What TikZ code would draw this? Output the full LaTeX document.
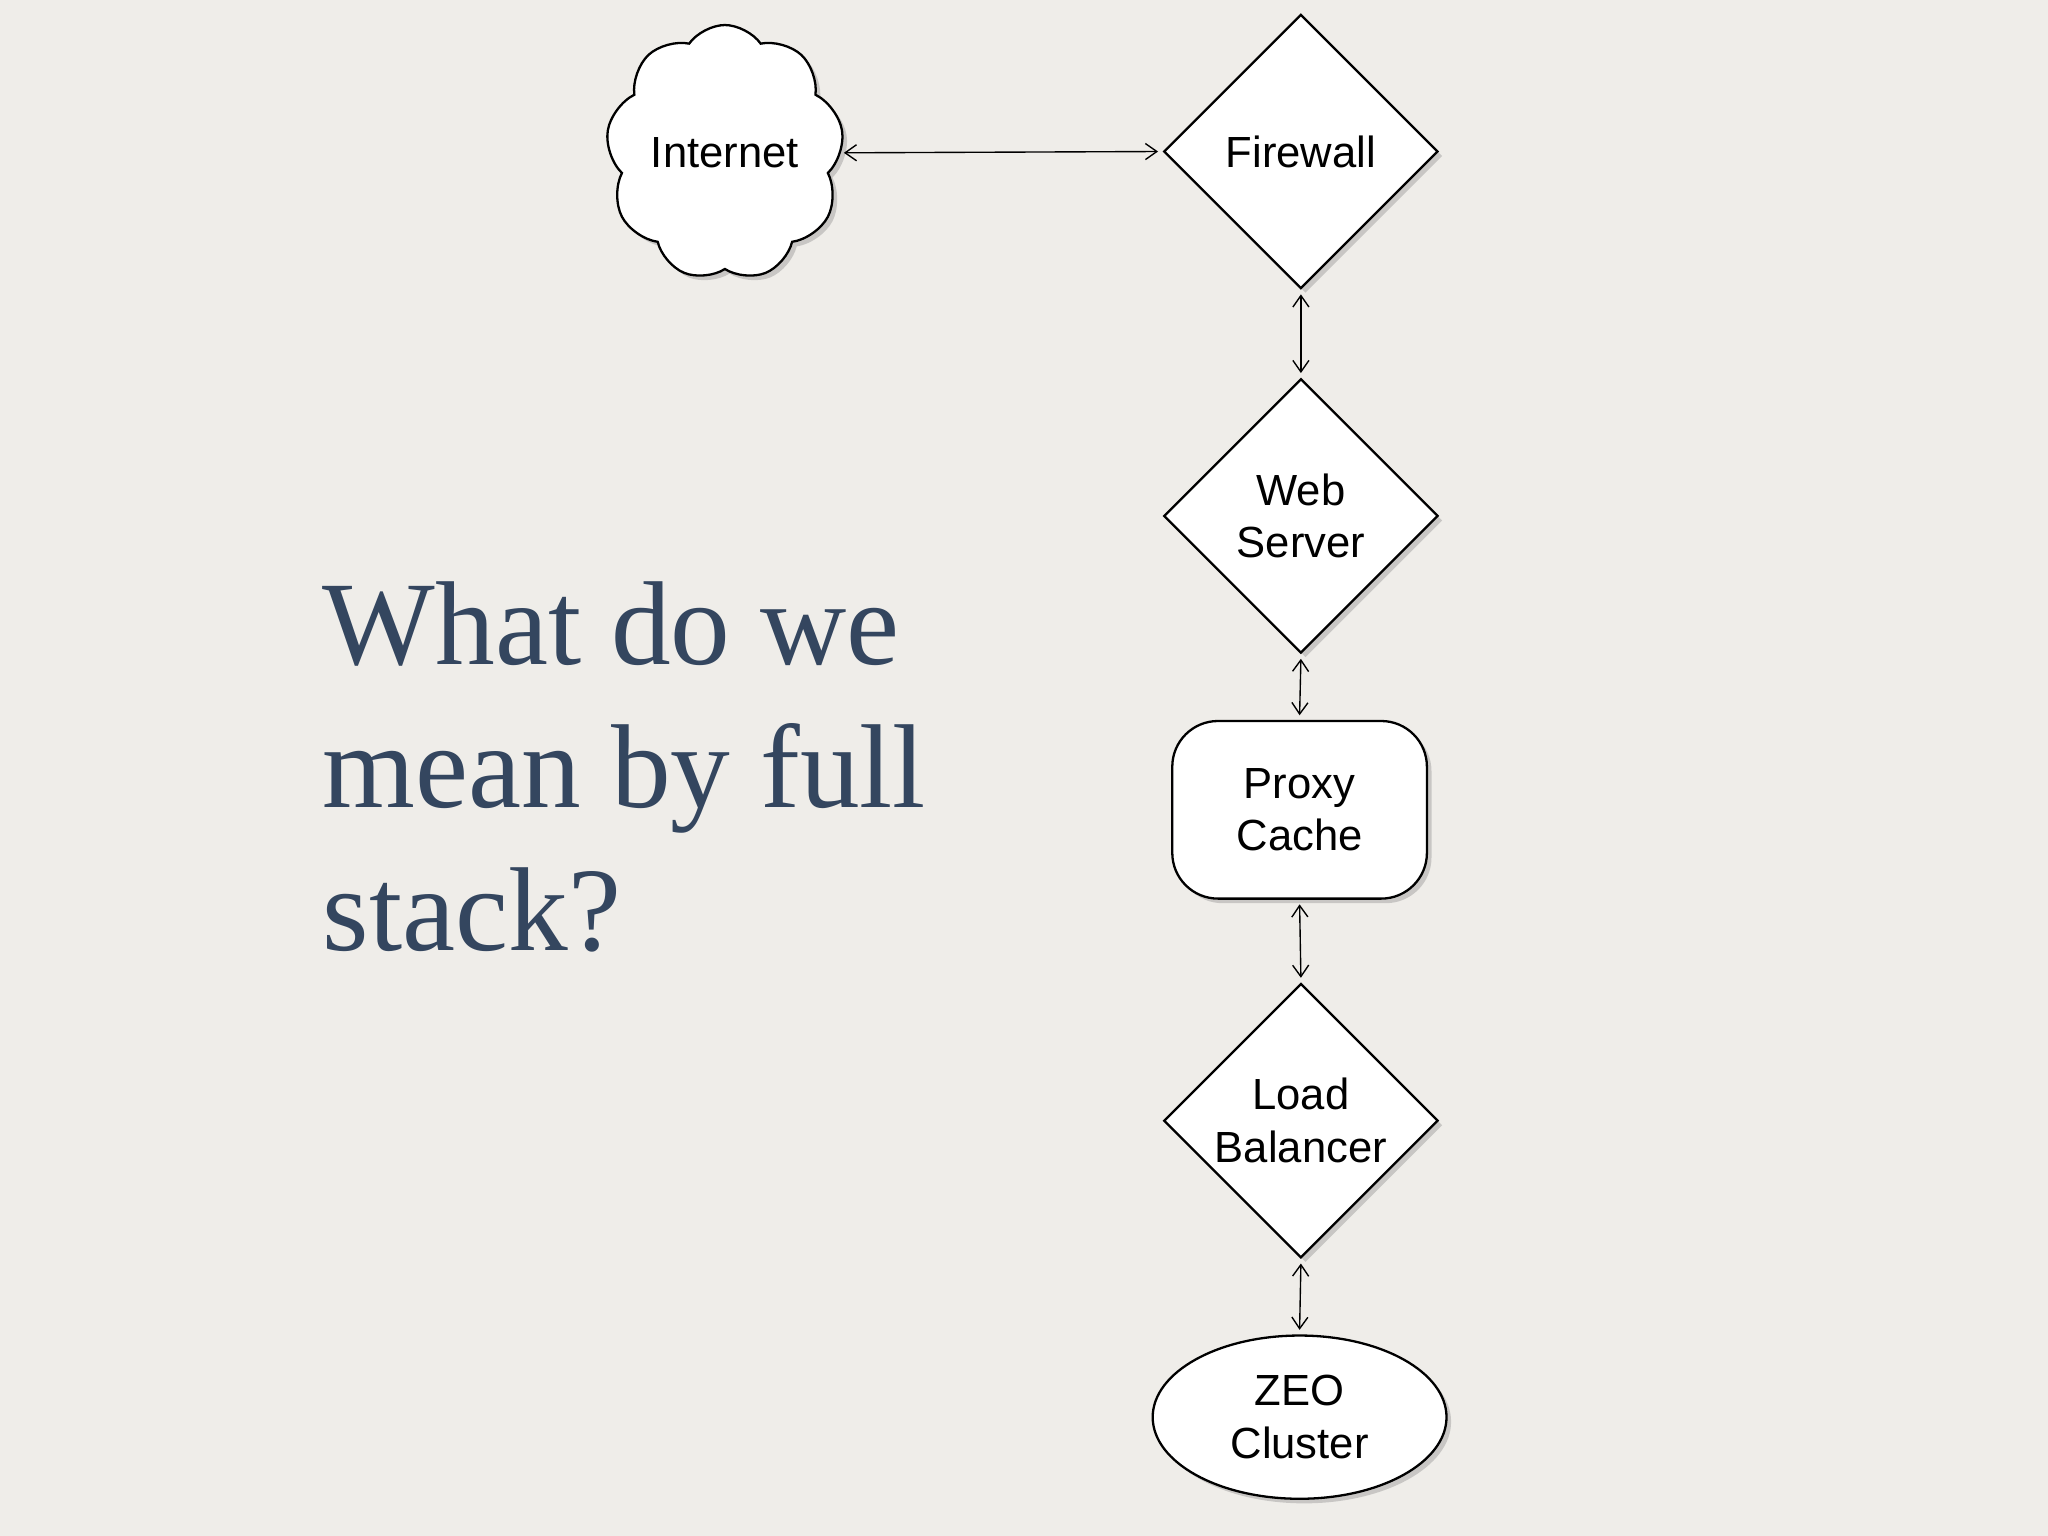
\documentclass[tikz,border=0pt]{standalone}
\usepackage{fontspec}
\setmainfont{Liberation Sans}
\newfontfamily\titlefont{Liberation Serif}
\usetikzlibrary{shapes.geometric,shapes.symbols,shapes.misc,shadows,arrows.meta}
\definecolor{bg}{HTML}{EFEDE9}
\definecolor{titleblue}{HTML}{34465F}
\begin{document}
\begin{tikzpicture}[x=0.02cm,y=-0.02cm,
  box/.style={draw=black,line width=1pt,fill=white,align=center,font=\fontsize{19}{23}\selectfont,
    drop shadow={shadow xshift=2pt,shadow yshift=-2pt,opacity=0.35}},
  dia/.style={box,diamond,minimum width=4.2cm,minimum height=4.2cm,inner sep=0pt},
  link/.style={{Straight Barb[length=5pt,width=7pt]}-{Straight Barb[length=5pt,width=7pt]},line width=0.6pt}]
\fill[bg] (0,0) rectangle (1568,1176);
\useasboundingbox (0,0) rectangle (1568,1176);
\node[box,cloud,cloud puffs=9,cloud puff arc=110,aspect=0.9,minimum width=3.5cm,minimum height=3.8cm,inner sep=0pt] (inet) at (555,117) {Internet};
\node[dia] (fw) at (996,116) {Firewall};
\node[dia] (ws) at (996,395) {Web\\Server};
\node[box,rectangle,rounded corners=0.7cm,minimum width=3.9cm,minimum height=2.72cm] (pc) at (995,620) {Proxy\\Cache};
\node[dia] (lb) at (996,858) {Load\\Balancer};
\node[box,ellipse,minimum width=4.5cm,minimum height=2.5cm] (zeo) at (995,1085) {ZEO\\Cluster};
\draw[link] ([xshift=1pt]inet.east) -- ([xshift=-2pt]fw.west);
\draw[link] ([yshift=-2pt]fw.south) -- ([yshift=2pt]ws.north);
\draw[link] ([yshift=-2pt]ws.south) -- ([yshift=2pt]pc.north);
\draw[link] ([yshift=-2pt]pc.south) -- ([yshift=2pt]lb.north);
\draw[link] ([yshift=-2pt]lb.south) -- ([yshift=2pt]zeo.north);
\node[anchor=base west,text=titleblue,align=left,font=\titlefont\fontsize{52}{62.5}\selectfont] (title) at (241,728) {What do we\\mean by full\\stack?};
\end{tikzpicture}
\end{document}
